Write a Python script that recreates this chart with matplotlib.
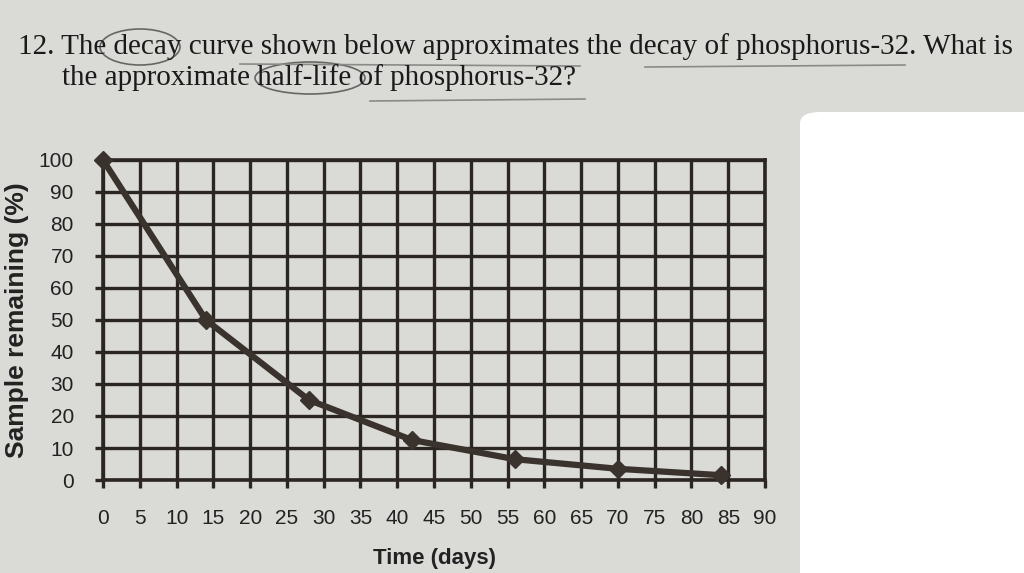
import matplotlib.pyplot as plt
from matplotlib.patches import Ellipse, FancyBboxPatch
from matplotlib.lines import Line2D

# values
days = [0, 14, 28, 42, 56, 70, 84]
remaining = [100, 50, 25, 12.5, 6.5, 3.5, 1.5]
x_ticks = list(range(0, 95, 5))
y_ticks = list(range(0, 110, 10))

question_1 = "12. The decay curve shown below approximates the decay of phosphorus-32. What is"
question_2 = "the approximate half-life of phosphorus-32?"

paper = '#dadad7'
ink = '#2b2622'

fig = plt.figure(figsize=(10.24, 5.73), dpi=100, facecolor=paper)

# question text
fig.text(18 / 1024, 1 - 47 / 573, question_1, fontsize=21, family='Liberation Serif',
         va='center', color='#1a1a1a')
fig.text(62 / 1024, 1 - 78 / 573, question_2, fontsize=21, family='Liberation Serif',
         va='center', color='#1a1a1a')

# pen marks on the sheet
fig.patches.append(Ellipse((140 / 1024, 1 - 47 / 573), 80 / 1024, 36 / 573,
                           transform=fig.transFigure, fill=False, ec='#666', lw=1.2))
fig.patches.append(Ellipse((310 / 1024, 1 - 78 / 573), 110 / 1024, 32 / 573,
                           transform=fig.transFigure, fill=False, ec='#666', lw=1.2))
for xs, ys in [((240, 580), (64, 66)), ((645, 905), (67, 65)), ((370, 585), (101, 99))]:
    fig.lines.append(Line2D([x / 1024 for x in xs], [1 - y / 573 for y in ys],
                            transform=fig.transFigure, color='#8a8a88', lw=1.2))

ax = fig.add_axes([0.1006, 0.1623, 0.6465, 0.5585])
ax.set_facecolor(paper)
ax.plot(days, remaining, color='#3a322d', lw=4.5, marker='D', ms=9,
        solid_capstyle='round', zorder=3, clip_on=False)
ax.set_xlim(0, 90)
ax.set_ylim(0, 100)
ax.set_xticks(x_ticks)
ax.set_yticks(y_ticks)
ax.grid(True, color=ink, lw=2.4)
ax.set_axisbelow(True)
for s in ax.spines.values():
    s.set_color(ink)
    s.set_linewidth(2.6)
ax.tick_params(direction='out', length=6, width=2.4, color=ink, pad=15,
               labelsize=15, labelcolor='#222')
for lab in ax.get_xticklabels() + ax.get_yticklabels():
    lab.set_family('Liberation Sans')
ax.set_xlabel('Time (days)', fontsize=16, fontweight='bold', family='Liberation Sans',
              labelpad=14, color='#222')
ax.set_ylabel('Sample remaining (%)', fontsize=19, fontweight='bold', family='Liberation Sans',
              labelpad=7, color='#222')

# white cover on the right side of the photo
fig.patches.append(FancyBboxPatch((800 / 1024, -0.05), 0.3, (573 - 112) / 573 + 0.05,
                                  boxstyle='round,pad=0,rounding_size=0.02',
                                  transform=fig.transFigure, fc='white', ec='none'))

plt.savefig('out.png', dpi=100, facecolor=fig.get_facecolor())
